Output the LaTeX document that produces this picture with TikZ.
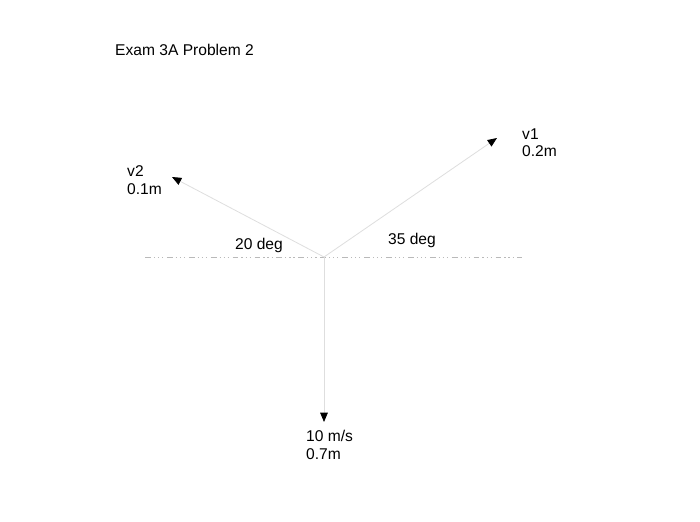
\documentclass[tikz,border=0pt]{standalone}
\usepackage{fontspec}
\setmainfont{Liberation Sans}
\usepackage{tikz}
\usetikzlibrary{arrows.meta}
\usepackage{color}

\definecolor{vecgray}{RGB}{222,222,222}
\definecolor{axisgray}{RGB}{185,185,185}
\tikzset{
	vec/.style={draw=vecgray,line width=0.7pt,-{Triangle[black,length=8pt,width=6.5pt]}},
	axis/.style={draw=axisgray,line width=0.8pt,dash pattern=on 5pt off 2.5pt on 1pt off 2.5pt on 1pt off 2.5pt on 1pt off 3.2pt},
	lbl/.style={inner sep=0pt,align=left,font=\fontsize{13.3}{14.8}\selectfont}
}

\begin{document}
\begin{tikzpicture}[x=0.03cm,y=-0.03cm]
	\useasboundingbox (0,0) rectangle (700,521);
	\node[lbl,anchor=west] (title) at (115,50) {Exam 3A Problem 2};
	% reference line through the origin
	\coordinate (o) at (324,257);
	\coordinate (axl) at (145,257);
	\coordinate (axr) at (522,257);
	\draw[axis] (axl) -- (axr);
	% vector tips
	\coordinate (t1) at (497,138);
	\coordinate (t2) at (172,177);
	\coordinate (t3) at (324,422);
	\draw[vec] (o) -- (t1);
	\draw[vec] (o) -- (t2);
	\draw[vec] (o) -- (t3);
	\node[lbl,anchor=west] (v1) at (522,143) {v1\\0.2m};
	\node[lbl,anchor=west] (v2) at (127,180) {v2\\0.1m};
	\node[lbl,anchor=west] (v3) at (306,445) {10 m/s\\0.7m};
	\node[lbl] (a1) at (412,240) {35 deg};
	\node[lbl] (a2) at (259,245) {20 deg};
\end{tikzpicture}
\end{document}
